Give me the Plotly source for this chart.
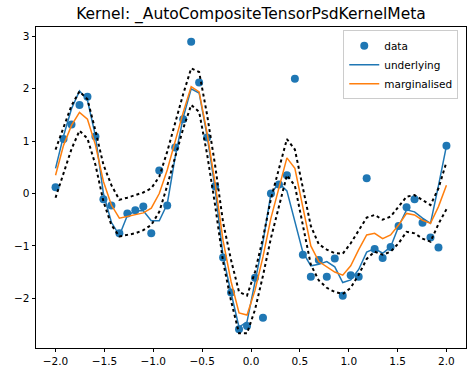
import numpy as np
import plotly.graph_objects as go

x_grid = np.linspace(-2, 2, 50)

data_y = [0.12, 1.04, 1.32, 1.69, 1.85, 1.09, -0.11, -0.23, -0.76, -0.38,
          -0.32, -0.25, -0.76, 0.44, -0.23, 0.88, 1.42, 2.90, 2.12, 1.07,
          0.14, -1.22, -1.89, -2.59, -2.53, -1.61, -2.37, 0.00, 0.17, 0.35,
          2.19, -1.17, -1.59, -1.27, -1.59, -1.24, -1.95, -1.56, -1.59, 0.29,
          -1.06, -1.23, -1.02, -0.62, -0.26, -0.11, -0.56, -0.84, -1.03, 0.91]

underlying = [0.48, 1.10, 1.62, 1.96, 1.78, 1.10, 0.00, -0.55, -0.80, -0.42,
              -0.33, -0.33, -0.52, -0.52, -0.20, 0.70, 1.45, 2.00, 1.92, 1.10,
              0.10, -1.20, -1.90, -2.55, -2.45, -1.68, -0.93, 0.00, 0.20, 0.05,
              -0.55, -1.12, -1.38, -1.35, -1.30, -1.40, -1.70, -1.65, -1.45, -1.12,
              -1.05, -1.14, -1.02, -0.63, -0.31, -0.35, -0.47, -0.57, 0.15, 0.91]

marginalised = [0.35, 0.92, 1.30, 1.55, 1.42, 0.93, 0.23, -0.22, -0.47, -0.44,
                -0.41, -0.37, -0.28, 0.00, 0.45, 1.00, 1.55, 2.04, 1.94, 1.15,
                0.20, -0.90, -1.68, -2.28, -2.32, -1.85, -1.21, -0.47, 0.10, 0.68,
                0.48, -0.28, -1.00, -1.30, -1.40, -1.50, -1.56, -1.38, -1.07, -0.79,
                -0.76, -0.86, -0.79, -0.60, -0.38, -0.41, -0.51, -0.57, -0.25, 0.16]

upper = [0.84, 1.25, 1.68, 1.95, 1.80, 1.20, 0.55, 0.16, -0.12, -0.08,
         -0.03, 0.02, 0.10, 0.32, 0.80, 1.35, 1.90, 2.39, 2.32, 1.50,
         0.54, -0.55, -1.27, -1.88, -1.95, -1.50, -0.85, -0.10, 0.45, 1.04,
         0.84, 0.08, -0.62, -0.97, -1.07, -1.14, -1.15, -0.95, -0.70, -0.46,
         -0.41, -0.50, -0.44, -0.25, -0.06, -0.03, -0.12, -0.22, 0.10, 0.60]

lower = [-0.08, 0.40, 0.85, 1.20, 1.05, 0.55, -0.15, -0.60, -0.82, -0.79,
         -0.76, -0.70, -0.60, -0.35, 0.15, 0.70, 1.24, 1.69, 1.56, 0.75,
         -0.22, -1.30, -2.05, -2.67, -2.67, -2.22, -1.57, -0.85, -0.25, 0.35,
         0.15, -0.62, -1.36, -1.66, -1.80, -1.88, -1.92, -1.80, -1.55, -1.25,
         -1.11, -1.17, -1.11, -0.95, -0.73, -0.76, -0.86, -0.92, -0.58, -0.30]

x_ticks = [-2.0, -1.5, -1.0, -0.5, 0.0, 0.5, 1.0, 1.5, 2.0]
x_tick_text = ["\u22122.0", "\u22121.5", "\u22121.0", "\u22120.5", "0.0", "0.5", "1.0", "1.5", "2.0"]
y_ticks = [-2, -1, 0, 1, 2, 3]
y_tick_text = ["\u22122", "\u22121", "0", "1", "2", "3"]

BLUE = "#1f77b4"
ORANGE = "#ff7f0e"
FONT = "DejaVu Sans"

fig = go.Figure()
fig.add_trace(go.Scatter(x=x_grid, y=data_y, mode="markers", name="data",
                         marker=dict(color=BLUE, size=8, line=dict(width=0))))
fig.add_trace(go.Scatter(x=x_grid, y=underlying, mode="lines", name="underlying",
                         line=dict(color=BLUE, width=1.5)))
fig.add_trace(go.Scatter(x=x_grid, y=marginalised, mode="lines", name="marginalised",
                         line=dict(color=ORANGE, width=1.5)))
fig.add_trace(go.Scatter(x=x_grid, y=upper, mode="lines", showlegend=False,
                         line=dict(color="black", width=2, dash="dot")))
fig.add_trace(go.Scatter(x=x_grid, y=lower, mode="lines", showlegend=False,
                         line=dict(color="black", width=2, dash="dot")))

axis_common = dict(showgrid=False, zeroline=False, showline=True, linecolor="black",
                   linewidth=0.8, mirror=True, ticks="outside", ticklen=3.5,
                   tickcolor="black", tickwidth=0.8,
                   tickfont=dict(family=FONT, size=10.5, color="black"))

fig.update_layout(
    width=474, height=377,
    margin=dict(l=36, r=8, t=27, b=29),
    paper_bgcolor="white", plot_bgcolor="white",
    title=dict(text="Kernel: _AutoCompositeTensorPsdKernelMeta",
               font=dict(family=FONT, size=15.5, color="black"),
               x=(36 + 466) / 2 / 474, xanchor="center", y=1 - 14 / 377, yanchor="middle"),
    xaxis=dict(range=[-2.2, 2.2], tickvals=x_ticks, ticktext=x_tick_text, **axis_common),
    yaxis=dict(range=[-2.95, 3.18], tickvals=y_ticks, ticktext=y_tick_text, **axis_common),
    legend=dict(x=0.982, y=0.99, xanchor="right", yanchor="top",
                bgcolor="rgba(255,255,255,0.8)", bordercolor="#cccccc", borderwidth=1,
                font=dict(family=FONT, size=10.5, color="black"),
                tracegroupgap=0, itemwidth=30),
    showlegend=True,
)

fig.write_html("out.html", config={"displayModeBar": False},
               post_script="document.body.style.margin='0';document.body.style.padding='0';")
